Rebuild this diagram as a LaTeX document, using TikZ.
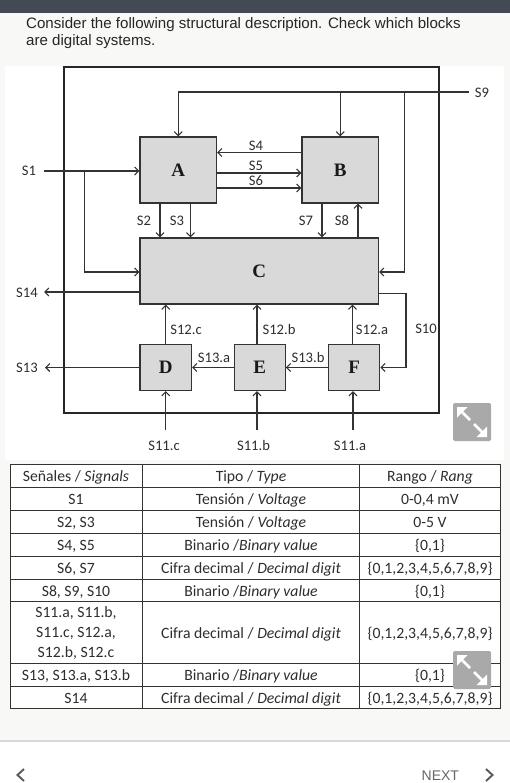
\documentclass[tikz,border=0pt]{standalone}
\usepackage{fontspec}
\setmainfont{Carlito}
\newfontfamily\uifont{Liberation Sans}
\newfontfamily\blockfont{Liberation Serif}
\usetikzlibrary{arrows.meta}
\definecolor{headbar}{HTML}{434A54}
\definecolor{pagebg}{HTML}{F8F9F6}
\definecolor{blockfill}{HTML}{D9D9D9}
\definecolor{inkc}{HTML}{333333}
\definecolor{textc}{HTML}{2E2E2E}
\definecolor{iconc}{HTML}{A9A9A9}
\tikzset{
  x=1pt,y=-1pt,
  tipp/.tip={Straight Barb[length=4pt,width=8pt,line width=1.1pt]},
  wire/.style={draw=inkc,line width=1.05pt},
  arrow/.style={wire,-{tipp}},
  block/.style={draw=inkc,line width=1.3pt,fill=blockfill,inner sep=0,
    font={\blockfont\bfseries\fontsize{19}{19}\selectfont},text=black!90},
  slabel/.style={inner sep=0,text=textc,text height=9.4pt,text depth=0pt,font=\fontsize{14.6}{14.6}\selectfont},
  cell/.style={inner sep=0,anchor=base,text=textc,align=center,font=\fontsize{15.7}{19.6}\selectfont},
  grid/.style={draw=inkc,line width=.9pt},
  ui/.style={inner sep=0,anchor=base west,text=black!85,font={\uifont\fontsize{15.1}{17}\selectfont}},
  expandicon/.pic={
    \fill[iconc,rounded corners=1.5pt] (-19,-19) rectangle (19,19);
    \fill[white] (-15,-15) -- (-4.5,-15) -- (-15,-4.5) -- cycle;
    \fill[white] (15,15) -- (4.5,15) -- (15,4.5) -- cycle;
    \draw[white,line width=2.8pt] (-12,-12) -- (-2,-2);
    \draw[white,line width=2.8pt] (12,12) -- (2,2);
  }
}
\begin{document}
\begin{tikzpicture}
\useasboundingbox (0,0) rectangle (510,783);
% page
\fill[pagebg] (0,0) rectangle (510,783);
\fill[white] (5,66) rectangle (504,460);
\fill[headbar] (0,0) rectangle (510,13);
\node[ui] (t1) at (26,28.5) {Consider the following structural description. Check which blocks};
\node[ui] (t2) at (26,46) {are digital systems.};
% outer box
\node[draw=black!85,line width=1.4pt,inner sep=0,minimum width=375pt,minimum height=346pt] (outer) at (251.5,240) {};
% blocks
\node[block,minimum width=76.5pt,minimum height=66pt] (A) at (178.25,170) {A};
\node[block,minimum width=76.5pt,minimum height=66pt] (B) at (340.25,170) {B};
\node[block,minimum width=238.5pt,minimum height=66pt] (C) at (259.25,271) {C};
\node[block,minimum width=51.5pt,minimum height=46pt] (D) at (165.75,367.5) {D};
\node[block,minimum width=51pt,minimum height=46pt] (E) at (259.75,367.5) {E};
\node[block,minimum width=51pt,minimum height=46pt] (F) at (354.25,367.5) {F};
% labels
\node[slabel] (lS1) at (29,171) {S1};
\node[slabel] (lS2) at (144,221) {S2};
\node[slabel] (lS3) at (177,221) {S3};
\node[slabel] (lS4) at (256,146) {S4};
\node[slabel] (lS5) at (256,165.5) {S5};
\node[slabel] (lS6) at (256,181) {S6};
\node[slabel] (lS7) at (306,221) {S7};
\node[slabel] (lS8) at (342,221) {S8};
\node[slabel] (lS9) at (482,92.5) {S9};
\node[slabel] (lS10) at (426,328.5) {S10};
\node[slabel] (lS11c) at (164,445.5) {S11.c};
\node[slabel] (lS11b) at (253.5,445.5) {S11.b};
\node[slabel] (lS11a) at (350,445.5) {S11.a};
\node[slabel] (lS12c) at (186,329.5) {S12.c};
\node[slabel] (lS12b) at (279,329.5) {S12.b};
\node[slabel] (lS12a) at (372,329.5) {S12.a};
\node[slabel] (lS13a) at (214,357.5) {S13.a};
\node[slabel] (lS13b) at (308,358) {S13.b};
\node[slabel] (lS13) at (27,367.5) {S13};
\node[slabel] (lS14) at (27,292.5) {S14};
% junctions and free ends
\coordinate (s1start) at (44,171);
\coordinate (s1j) at (84.5,171);
\coordinate (s1c) at (84.5,272);
\coordinate (s9end) at (469,92);
\coordinate (s9l) at (178.25,92);
\coordinate (s9m) at (340.25,92);
\coordinate (s9j) at (404.5,92);
\coordinate (s9c) at (404.5,272);
\coordinate (s14end) at (44,292);
\coordinate (s13end) at (45,367.5);
\coordinate (s10a) at (406,293.5);
\coordinate (s10b) at (406,367.5);
\coordinate (s11c) at (165.75,430);
\coordinate (s11b) at (257,430);
\coordinate (s11a) at (353,430);
% connectors
\draw[arrow] (s1start) -- (s1j) -- (s1j -| A.west);
\draw[arrow] (s1j) -- (s1c) -- (s1c -| C.west);
\draw[wire] (s9end) -- (s9l);
\draw[arrow] (s9l) -- (A.north);
\draw[arrow] (s9m) -- (B.north);
\draw[arrow] (s9j) -- (s9c) -- (s9c -| C.east);
\draw[arrow] (B.west |- 0,152.5) -- (A.east |- 0,152.5);
\draw[arrow] (A.east |- 0,173) -- (B.west |- 0,173);
\draw[arrow] (A.east |- 0,188) -- (B.west |- 0,188);
\draw[arrow] (160,0 |- A.south) -- (160,0 |- C.north);
\draw[arrow] (190.5,0 |- A.south) -- (190.5,0 |- C.north);
\draw[arrow] (322,0 |- B.south) -- (322,0 |- C.north);
\draw[arrow] (358,0 |- C.north) -- (358,0 |- B.south);
\draw[arrow] (C.west |- s14end) -- (s14end);
\draw[arrow] (C.east |- s10a) -- (s10a) -- (s10b) -- (F.east);
\draw[arrow] (D.west) -- (s13end);
\draw[arrow] (E.west) -- (D.east);
\draw[arrow] (F.west) -- (E.east);
\draw[arrow] (D.north -| 165.75,0) -- (C.south -| 165.75,0);
\draw[arrow] (E.north -| 257,0) -- (C.south -| 257,0);
\draw[arrow] (F.north -| 352.5,0) -- (C.south -| 352.5,0);
\draw[arrow] (s11c) -- (s11c |- D.south);
\draw[arrow] (s11b) -- (s11b |- E.south);
\draw[arrow] (s11a) -- (s11a |- F.south);
% table
\fill[white] (10,464.5) rectangle (500.5,708.7);
\foreach \yy in {464.5,487.5,510.5,533.3,556,579,601.7,663,686,708.7}
  \draw[grid] (10,\yy) -- (500.5,\yy);
\foreach \xx in {10,142,359.5,500.5}
  \draw[grid] (\xx,464.5) -- (\xx,708.7);
\node[cell] (h1) at (76,481.7) {Señales / \textit{Signals}};
\node[cell] (h2) at (251,481.7) {Tipo / \textit{Type}};
\node[cell] (h3) at (430,481.7) {Rango / \textit{Rang}};
\node[cell] (r1a) at (76,504.3) {S1};
\node[cell] (r1b) at (251,504.3) {Tensión / \textit{Voltage}};
\node[cell] (r1c) at (430,504.3) {0-0,4 mV};
\node[cell] (r2a) at (76,527) {S2, S3};
\node[cell] (r2b) at (251,527) {Tensión / \textit{Voltage}};
\node[cell] (r2c) at (430,527) {0-5 V};
\node[cell] (r3a) at (76,550) {S4, S5};
\node[cell] (r3b) at (251,550) {Binario /\textit{Binary value}};
\node[cell] (r3c) at (430,550) {\{0,1\}};
\node[cell] (r4a) at (76,573) {S6, S7};
\node[cell] (r4b) at (251,573) {Cifra decimal / \textit{Decimal digit}};
\node[cell] (r4c) at (430,573) {\{0,1,2,3,4,5,6,7,8,9\}};
\node[cell] (r5a) at (76,596) {S8, S9, S10};
\node[cell] (r5b) at (251,596) {Binario /\textit{Binary value}};
\node[cell] (r5c) at (430,596) {\{0,1\}};
\node[cell,anchor=center] (r6a) at (76,633) {S11.a, S11.b,\\S11.c, S12.a,\\S12.b, S12.c};
\node[cell] (r6b) at (251,638.3) {Cifra decimal / \textit{Decimal digit}};
\node[cell] (r6c) at (430,638.3) {\{0,1,2,3,4,5,6,7,8,9\}};
\node[cell] (r7a) at (76,680.3) {S13, S13.a, S13.b};
\node[cell] (r7b) at (251,680.3) {Binario /\textit{Binary value}};
\node[cell] (r7c) at (430,680.3) {\{0,1\}};
\node[cell] (r8a) at (76,703.3) {S14};
\node[cell] (r8b) at (251,703.3) {Cifra decimal / \textit{Decimal digit}};
\node[cell] (r8c) at (430,703.3) {\{0,1,2,3,4,5,6,7,8,9\}};
% icons
\pic at (472,422) {expandicon};
\pic at (472,670) {expandicon};
% footer
\fill[white] (0,741) rectangle (510,783);
\draw[black!15,line width=1.4pt] (0,741) -- (510,741);
\draw[black!65,line width=1.9pt] (24,769) -- (17.5,775) -- (24,781);
\draw[black!65,line width=1.9pt] (486,769) -- (492.5,775) -- (486,781);
\node[inner sep=0,text=black!60,anchor=base west,font={\uifont\fontsize{14}{14}\selectfont}] (next) at (421.5,780) {NEXT};
\end{tikzpicture}
\end{document}
